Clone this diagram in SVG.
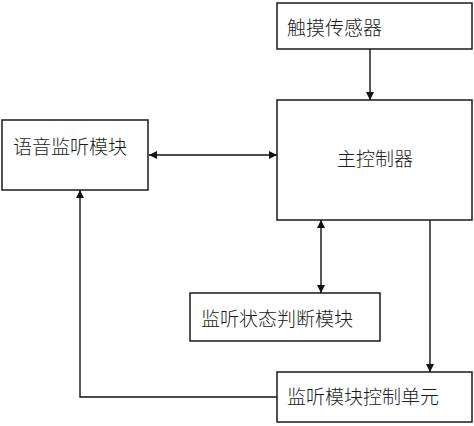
<svg xmlns="http://www.w3.org/2000/svg" width="474" height="426" viewBox="0 0 474 426">
<defs>
<style>
.box{fill:#fff;stroke:#1a1a1a;stroke-width:1.5}
.t{font-family:"Noto Sans CJK SC","Noto Sans",sans-serif;font-size:19px;fill:#1a1a1a;font-weight:300}
.c{fill:none;stroke:#111;stroke-width:1.4}
</style>
<marker id="ah" viewBox="0 0 10 10" refX="10" refY="5" markerWidth="8" markerHeight="8" markerUnits="userSpaceOnUse" orient="auto-start-reverse">
<path d="M0,0 L10,5 L0,10 z" fill="#111"/>
</marker>
</defs>
<rect width="474" height="426" fill="#fff"/>
<g id="connectors">
<line class="c" x1="370" y1="49" x2="370" y2="100" marker-end="url(#ah)"/>
<line class="c" x1="149" y1="155" x2="277" y2="155" marker-start="url(#ah)" marker-end="url(#ah)"/>
<line class="c" x1="321" y1="220" x2="321" y2="293" marker-start="url(#ah)" marker-end="url(#ah)"/>
<line class="c" x1="430" y1="220" x2="430" y2="372" marker-end="url(#ah)"/>
<polyline class="c" points="277,397 80,397 80,190" marker-end="url(#ah)"/>
</g>
<g id="touch">
<rect class="box" x="277" y="3" width="195" height="46"/>
<text class="t" x="287" y="26" dominant-baseline="central">触摸传感器</text>
</g>
<g id="main">
<rect class="box" x="277" y="100" width="195" height="120"/>
<text class="t" x="375" y="157" text-anchor="middle" dominant-baseline="central">主控制器</text>
</g>
<g id="voice">
<rect class="box" x="2" y="120" width="146" height="70"/>
<text class="t" x="13" y="145" dominant-baseline="central">语音监听模块</text>
</g>
<g id="status">
<rect class="box" x="190" y="293" width="190" height="48"/>
<text class="t" x="201" y="317" dominant-baseline="central">监听状态判断模块</text>
</g>
<g id="ctrlunit">
<rect class="box" x="277" y="372" width="195" height="50"/>
<text class="t" x="287" y="395" dominant-baseline="central">监听模块控制单元</text>
</g>
</svg>
